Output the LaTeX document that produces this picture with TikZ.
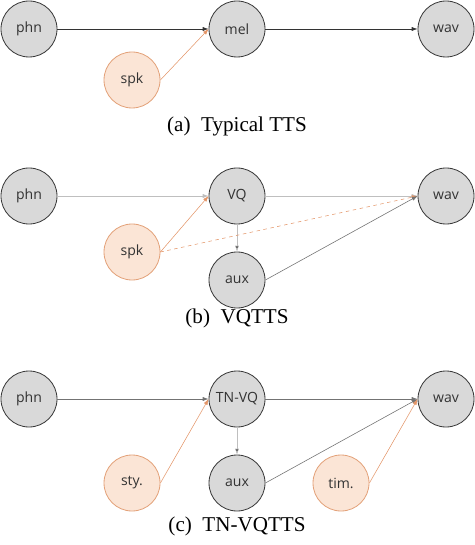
\documentclass[tikz,border=0pt]{standalone}
\usepackage{fontspec}
\setmainfont{Liberation Serif}
\newfontfamily\labelfont{Open Sans}
\usetikzlibrary{arrows.meta}
\definecolor{nodegray}{HTML}{D9D9D9}
\definecolor{edgegray}{HTML}{3A3A3A}
\definecolor{peach}{HTML}{FBE5D6}
\definecolor{peachline}{HTML}{E3A27A}
\definecolor{linkorange}{HTML}{E39466}
\tikzset{
  feat/.style={circle, draw=edgegray, fill=nodegray, line width=0.7pt, minimum size=56*0.03cm, inner sep=0pt, font=\labelfont\fontsize{12}{14}\selectfont, text=black!80},
  cond/.style={feat, draw=peachline, fill=peach},
  darklink/.style={-{Latex[length=5pt,width=3.5pt]}, draw=black!80, line width=0.5pt},
  greylink/.style={-{Latex[length=5pt,width=3.5pt]}, draw=black!25, line width=0.5pt},
  midlink/.style={-{Latex[length=5pt,width=3.5pt]}, draw=black!55, line width=0.5pt},
  orangelink/.style={-{Latex[length=5pt,width=3.5pt]}, draw=linkorange, line width=0.45pt},
  caption/.style={font=\fontsize{18}{21}\selectfont}
}
\begin{document}
\begin{tikzpicture}[x=0.03cm, y=-0.03cm]
    \useasboundingbox (0,0) rectangle (474,545);
    % (a) typical TTS
    \node[feat] (phnA) at (29,29) {phn};
    \node[feat] (melA) at (237,29) {mel};
    \node[feat] (wavA) at (446,29) {wav};
    \node[cond] (spkA) at (132,80) {spk};
    \draw[darklink] (phnA) -- (melA);
    \draw[darklink] (melA) -- (wavA);
    \draw[orangelink] (spkA.east) -- (melA.west);
    \node[caption] (capA) at (237,126) {(a)\ \ Typical TTS};
    % (b) VQTTS
    \node[feat] (phnB) at (29,196) {phn};
    \node[feat] (vqB) at (237,196) {VQ};
    \node[feat] (wavB) at (446,196) {wav};
    \node[cond] (spkB) at (132,252) {spk};
    \node[feat] (auxB) at (237,280) {aux};
    \draw[greylink] (phnB) -- (vqB);
    \draw[greylink] (vqB) -- (wavB);
    \draw[greylink, -{Latex[length=5pt,width=3.5pt,fill=black!80]}] (vqB) -- (auxB);
    \draw[orangelink] (spkB.east) -- (vqB.west);
    \draw[orangelink, dashed] (spkB.east) -- (wavB.west);
    \draw[midlink] (auxB.east) -- (wavB.west);
    \node[caption] (capB) at (237,318) {(b)\ \ VQTTS};
    % (c) TN-VQTTS
    \node[feat] (phnC) at (29,399) {phn};
    \node[feat] (vqC) at (237,399) {TN-VQ};
    \node[feat] (wavC) at (446,399) {wav};
    \node[cond] (styC) at (132,483) {sty.};
    \node[feat] (auxC) at (237,483) {aux};
    \node[cond] (timC) at (341,483) {tim.};
    \draw[midlink] (phnC) -- (vqC);
    \draw[midlink] (vqC) -- (wavC);
    \draw[greylink, -{Latex[length=5pt,width=3.5pt,fill=black!80]}] (vqC) -- (auxC);
    \draw[orangelink] (styC.east) -- (vqC.west);
    \draw[midlink] (auxC.east) -- (wavC.west);
    \draw[orangelink] (timC.east) -- (wavC.west);
    \node[caption] (capC) at (237,526) {(c)\ \ TN-VQTTS};
\end{tikzpicture}
\end{document}
